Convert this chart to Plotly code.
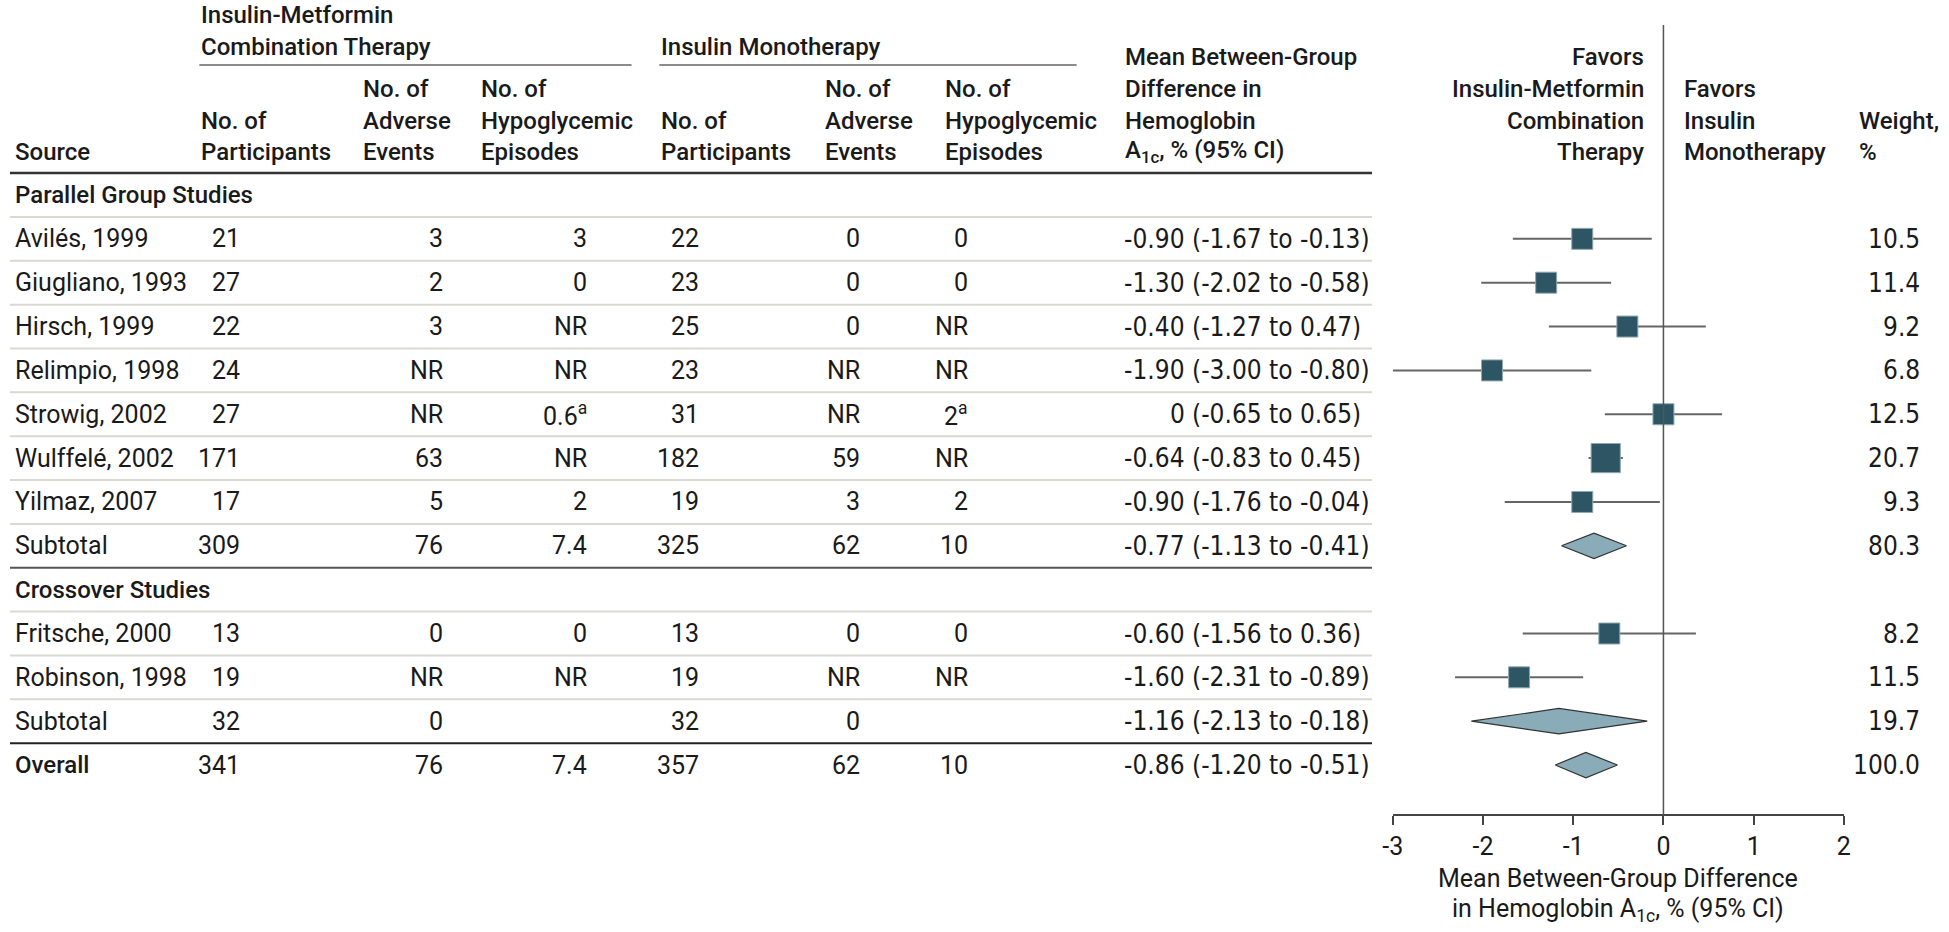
import plotly.graph_objects as go

# ---------------- data ----------------
row_labels = ["Parallel Group Studies", "Avilés, 1999", "Giugliano, 1993", "Hirsch, 1999",
              "Relimpio, 1998", "Strowig, 2002", "Wulffelé, 2002", "Yilmaz, 2007", "Subtotal",
              "Crossover Studies", "Fritsche, 2000", "Robinson, 1998", "Subtotal", "Overall"]
row_kind = ["section", "study", "study", "study", "study", "study", "study", "study", "subtotal",
            "section", "study", "study", "subtotal", "overall"]

combo_n = ["", "21", "27", "22", "24", "27", "171", "17", "309", "", "13", "19", "32", "341"]
combo_ae = ["", "3", "2", "3", "NR", "NR", "63", "5", "76", "", "0", "NR", "0", "76"]
combo_hypo = ["", "3", "0", "NR", "NR", "0.6<sup>a</sup>", "NR", "2", "7.4", "", "0", "NR", "", "7.4"]
mono_n = ["", "22", "23", "25", "23", "31", "182", "19", "325", "", "13", "19", "32", "357"]
mono_ae = ["", "0", "0", "0", "NR", "NR", "59", "3", "62", "", "0", "NR", "0", "62"]
mono_hypo = ["", "0", "0", "NR", "NR", "2<sup>a</sup>", "NR", "2", "10", "", "0", "NR", "", "10"]

est_text = ["", "-0.90", "-1.30", "-0.40", "-1.90", "0", "-0.64", "-0.90", "-0.77", "",
            "-0.60", "-1.60", "-1.16", "-0.86"]
ci_text = ["", "(-1.67 to -0.13)", "(-2.02 to -0.58)", "(-1.27 to 0.47)", "(-3.00 to -0.80)",
           "(-0.65 to 0.65)", "(-0.83 to 0.45)", "(-1.76 to -0.04)", "(-1.13 to -0.41)", "",
           "(-1.56 to 0.36)", "(-2.31 to -0.89)", "(-2.13 to -0.18)", "(-1.20 to -0.51)"]
weight_text = ["", "10.5", "11.4", "9.2", "6.8", "12.5", "20.7", "9.3", "80.3", "",
               "8.2", "11.5", "19.7", "100.0"]

# plotted estimates (row index, estimate, lower, upper, weight)
study_rows = [1, 2, 3, 4, 5, 6, 7, 10, 11]
study_est = [-0.90, -1.30, -0.40, -1.90, 0.00, -0.64, -0.90, -0.60, -1.60]
study_lo = [-1.67, -2.02, -1.27, -3.00, -0.65, -0.83, -1.76, -1.56, -2.31]
study_hi = [-0.13, -0.58, 0.47, -0.80, 0.65, -0.45, -0.04, 0.36, -0.89]
study_w = [10.5, 11.4, 9.2, 6.8, 12.5, 20.7, 9.3, 8.2, 11.5]

pool_rows = [8, 12, 13]
pool_est = [-0.77, -1.16, -0.86]
pool_lo = [-1.13, -2.13, -1.20]
pool_hi = [-0.41, -0.18, -0.51]

tick_vals = [-3, -2, -1, 0, 1, 2]
tick_text = ["-3", "-2", "-1", "0", "1", "2"]

# ---------------- layout constants ----------------
W, H = 1949, 932
ROW0, ROWH = 195.0, 43.85
HEAD_FONT = "Roboto"
BODY_FONT = "Roboto"
NUM_FONT = "DejaVu Sans Condensed, DejaVu Sans"
TXT = "#1a1a1a"


def px(x):
    return x / W


def py(y):
    return 1 - y / H


fig = go.Figure()

# CI lines (drawn first, beneath the squares)
ci_x, ci_y = [], []
for r, l, h in zip(study_rows, study_lo, study_hi):
    ci_x += [l, h, None]
    ci_y += [r, r, None]
fig.add_trace(go.Scatter(x=ci_x, y=ci_y, mode="lines",
                         line=dict(color="#666666", width=2),
                         hoverinfo="skip", showlegend=False))

# squares
sizes = [21 + max(0.0, w - 12.5) for w in study_w]
fig.add_trace(go.Scatter(
    x=study_est, y=study_rows, mode="markers",
    marker=dict(symbol="square", size=sizes, color="#2d5563", opacity=1,
                line=dict(color="#8fa9b2", width=1)),
    hoverinfo="skip", showlegend=False))

# diamonds
DH = 0.29
for r, e, l, h in zip(pool_rows, pool_est, pool_lo, pool_hi):
    fig.add_trace(go.Scatter(
        x=[l, e, h, e, l], y=[r, r - DH, r, r + DH, r], mode="lines",
        fill="toself", fillcolor="#8aabb8", line=dict(color="#333333", width=1.2),
        hoverinfo="skip", showlegend=False))

shapes = []
annotations = []


def add_text(text, x, y, anchor="left", font=BODY_FONT, size=25, weight="normal", yref="y"):
    annotations.append(dict(text=text, x=px(x), y=y, xref="paper", yref=yref,
                            xanchor=anchor, yanchor="middle", showarrow=False,
                            font=dict(family=font, size=size, color=TXT, weight=weight)))


# ----- header -----
HW = 500
HS = 24
group_heads = [("Insulin-Metformin", 191, 15), ("Combination Therapy", 191, 47),
               ("Insulin Monotherapy", 655, 47)]
for t, x, y in group_heads:
    add_text(t, x, py(y), font=HEAD_FONT, size=HS, weight=HW, yref="paper")

col_heads = [
    (3, "left", ["Source"]),
    (191, "left", ["No. of", "Participants"]),
    (354, "left", ["No. of", "Adverse", "Events"]),
    (473, "left", ["No. of", "Hypoglycemic", "Episodes"]),
    (655, "left", ["No. of", "Participants"]),
    (820, "left", ["No. of", "Adverse", "Events"]),
    (941, "left", ["No. of", "Hypoglycemic", "Episodes"]),
    (1123, "left", ["Mean Between-Group", "Difference in", "Hemoglobin", "A<sub>1c</sub>, % (95% CI)"]),
    (1650, "right", ["Favors", "Insulin-Metformin", "Combination", "Therapy"]),
    (1687, "left", ["Favors", "Insulin", "Monotherapy"]),
    (1863, "left", ["Weight,", "%"]),
]
line_y = [57, 89, 121, 152]
for x, anc, lines in col_heads:
    ys = line_y[-len(lines):]
    for t, y in zip(lines, ys):
        add_text(t, x, py(y), anchor=anc, font=HEAD_FONT, size=HS, weight=HW, yref="paper")

# group underlines and header rule
for x0, x1 in [(191, 627), (655, 1076)]:
    shapes.append(dict(type="line", xref="paper", yref="paper", x0=px(x0), x1=px(x1),
                       y0=py(65), y1=py(65), line=dict(color="#8c8c8c", width=2)))
shapes.append(dict(type="line", xref="paper", yref="paper", x0=0, x1=px(1374),
                   y0=py(173), y1=py(173), line=dict(color="#333333", width=2.5)))

# row separators
for i in range(len(row_labels) - 1):
    if i == 8:
        col, wd = "#555555", 2
    elif i == 12:
        col, wd = "#222222", 2
    else:
        col, wd = "#d9d9d2", 2
    shapes.append(dict(type="line", xref="paper", yref="y", x0=0, x1=px(1374),
                       y0=i + 0.5, y1=i + 0.5, line=dict(color=col, width=wd)))

# ----- body -----
for i, lab in enumerate(row_labels):
    kind = row_kind[i]
    if kind in ("section", "overall"):
        add_text(lab, 3, i, font=HEAD_FONT, size=HS, weight=HW)
    else:
        add_text(lab, 3, i)
    cols = [(combo_n, 234), (combo_ae, 439), (combo_hypo, 584),
            (mono_n, 697), (mono_ae, 860), (mono_hypo, 968)]
    for arr, xr in cols:
        if arr[i]:
            add_text(arr[i], xr, i, anchor="right")
    if est_text[i]:
        add_text(est_text[i], 1187, i, anchor="right", font=NUM_FONT, size=26)
        add_text(ci_text[i], 1190, i, anchor="left", font=NUM_FONT, size=26)
    if weight_text[i]:
        add_text(weight_text[i], 1929, i, anchor="right", font=NUM_FONT, size=26)

# zero reference line
shapes.append(dict(type="line", xref="x", yref="paper", x0=0, x1=0,
                   y0=py(815), y1=py(25), line=dict(color="#555555", width=1.5)))

# axis title
add_text("Mean Between-Group Difference", 1622, py(878), anchor="center", yref="paper")
add_text("in Hemoglobin A<sub>1c</sub>, % (95% CI)", 1622, py(910), anchor="center", yref="paper")

y_top = -ROW0 / ROWH
y_bot = (H - ROW0) / ROWH

fig.update_layout(
    width=W, height=H, margin=dict(l=0, r=0, t=0, b=0),
    paper_bgcolor="white", plot_bgcolor="rgba(0,0,0,0)",
    shapes=shapes, annotations=annotations, showlegend=False,
    xaxis=dict(domain=[px(1395), px(1850)], range=[-3, 2], anchor="free", position=py(815),
               showline=True, linecolor="#444444", linewidth=2, ticks="outside",
               ticklen=9, tickwidth=2, tickcolor="#444444", tickvals=tick_vals,
               ticktext=tick_text, showgrid=False, zeroline=False, fixedrange=True,
               tickfont=dict(family=BODY_FONT, size=25, color=TXT)),
    yaxis=dict(domain=[0, 1], range=[y_bot, y_top], visible=False, showgrid=False,
               zeroline=False, fixedrange=True),
)

fig.write_html("out.html", config={"displayModeBar": False, "staticPlot": True},
               post_script="document.body.style.margin='0px';document.body.style.overflow='hidden';")
